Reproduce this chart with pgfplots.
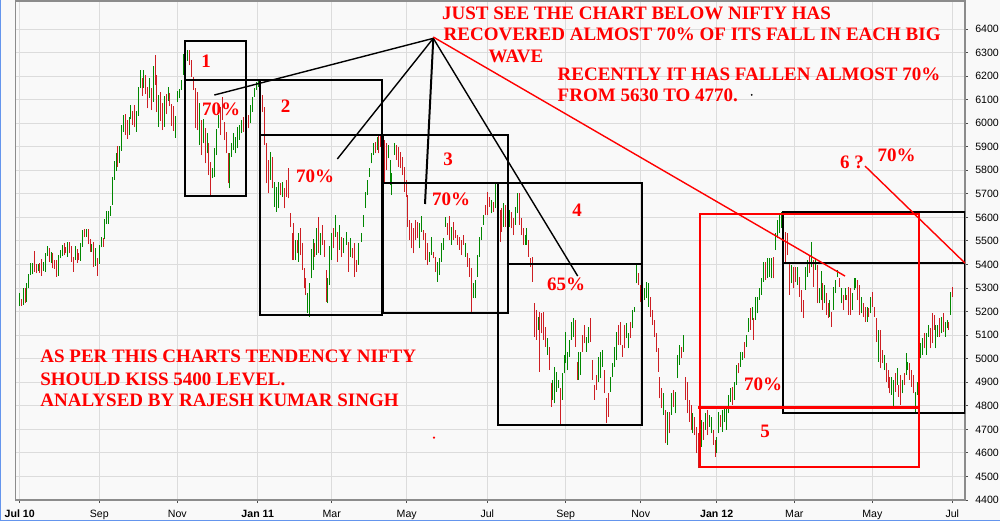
\documentclass[border=0pt]{standalone}
\usepackage{fontspec}
\setmainfont{Liberation Serif}
\newfontfamily\arialfont{Liberation Sans}
\usepackage{pgfplots}
\usepackage{pgfplotstable}
\pgfplotsset{compat=1.18}

\definecolor{upgreen}{RGB}{0,135,0}
\definecolor{downred}{RGB}{205,30,35}
\definecolor{annred}{RGB}{255,0,0}
\definecolor{gridgray}{RGB}{220,220,220}
\definecolor{framegray}{RGB}{140,140,140}
\definecolor{plotbg}{RGB}{249,249,249}
\definecolor{edgeblue}{RGB}{100,149,237}

\newcommand\ann{\fontsize{9.5}{11}\selectfont\bfseries}

% bars: t = position on the time axis, lo/hi = day's low and high
\pgfplotstableread{
t lo hi
19.5 5225 5278
23.5 5228 5299
26.5 5242 5323
28.5 5299 5358
30.5 5355 5405
32.5 5358 5405
38.5 5372 5402
43.5 5372 5412
45.5 5370 5447
47.5 5436 5479
51.5 5405 5452
58.5 5353 5440
60.5 5426 5462
62.5 5436 5483
67.5 5432 5497
75.5 5419 5479
80.5 5416 5490
82.5 5476 5547
86.5 5518 5549
91.5 5455 5487
95.5 5394 5469
99.5 5404 5483
101.5 5473 5515
104.5 5507 5593
106.5 5572 5627
108.5 5571 5627
110.5 5607 5648
112.5 5653 5773
114.5 5759 5840
116.5 5797 5872
119.5 5830 5903
121.5 5883 5992
123.5 5964 6035
129.5 5950 6028
130.5 6016 6077
136.5 5964 6052
138.5 6032 6155
140.5 6148 6226
143.5 6151 6226
149.5 6106 6190
153.5 6091 6243
158.5 5985 6120
164.5 5985 6116
168.5 6096 6152
175.5 5939 6032
177.5 6092 6137
179.5 6105 6144
181.5 6141 6183
183.5 6204 6294
187.5 6265 6313
199.5 5907 6084
203.5 5914 6020
207.5 5872 5957
212.5 5766 5808
214.5 5773 5893
216.5 5865 5974
218.5 5978 6035
229.5 5723 5872
231.5 5858 5914
233.5 5886 5957
235.5 5872 5943
237.5 5893 5985
239.5 5929 5992
241.5 5957 6013
246.5 6013 6063
250.5 5999 6077
252.5 6049 6112
254.5 6112 6148
256.5 6141 6176
258.5 6155 6180
270.5 5759 5879
274.5 5646 5752
276.5 5624 5730
278.5 5638 5752
282.5 5688 5752
295.5 5419 5504
298.5 5412 5532
307.5 5193 5278
309.5 5179 5320
311.5 5341 5464
313.5 5377 5507
316.5 5440 5554
320.5 5440 5532
327.5 5235 5341
329.5 5313 5479
331.5 5419 5532
335.5 5518 5609
339.5 5462 5568
343.5 5447 5511
346.5 5483 5539
350.5 5433 5511
358.5 5398 5490
361.5 5497 5532
363.5 5561 5610
365.5 5639 5709
367.5 5695 5759
369.5 5773 5808
371.5 5830 5872
373.5 5865 5914
377.5 5886 5943
388.5 5851 5907
390.5 5738 5844
391.5 5695 5787
394.5 5865 5914
419.5 5469 5575
421.5 5539 5606
429.5 5412 5455
431.5 5440 5518
437.5 5327 5412
439.5 5355 5426
441.5 5412 5490
443.5 5462 5511
445.5 5561 5600
451.5 5483 5561
465.5 5433 5490
473.5 5256 5320
475.5 5256 5334
477.5 5348 5440
479.5 5433 5518
481.5 5504 5561
483.5 5568 5610
491.5 5617 5674
495.5 5638 5752
503.5 5561 5660
509.5 5561 5631
515.5 5568 5645
517.5 5617 5702
525.5 5483 5525
526.5 5483 5553
538.5 5122 5178
547.5 5016 5087
552.5 4825 4910
554.5 4810 4966
556.5 4860 4945
558.5 4874 4910
562.5 4825 4938
564.5 4938 5016
565.5 4980 5115
567.5 4952 5030
569.5 5009 5080
571.5 5080 5157
573.5 5094 5171
578.5 4910 5030
580.5 4931 5030
586.5 5030 5094
588.5 5065 5136
598.5 4902 5009
600.5 4917 5030
602.5 4966 5037
610.5 4860 4924
612.5 4924 4980
614.5 4966 5051
616.5 4994 5115
626.5 5087 5150
628.5 5044 5108
632.5 5129 5207
634.5 5200 5221
636.5 5320 5398
644.5 5249 5299
646.5 5256 5327
648.5 5221 5320
663.5 4761 4853
667.5 4634 4775
671.5 4761 4853
675.5 4768 4860
677.5 4917 5016
679.5 4974 5058
683.5 5030 5101
692.5 4683 4768
699.5 4606 4676
701.5 4627 4740
705.5 4698 4768
709.5 4712 4761
711.5 4683 4754
716.5 4599 4669
718.5 4683 4775
722.5 4690 4782
724.5 4733 4790
726.5 4698 4797
728.5 4768 4846
730.5 4818 4875
734.5 4825 4903
736.5 4889 4974
740.5 4966 5030
742.5 4995 5030
746.5 5051 5101
748.5 5115 5172
752.5 5165 5221
755.5 5165 5264
757.5 5193 5264
759.5 5249 5299
761.5 5271 5341
763.5 5327 5412
767.5 5341 5426
769.5 5348 5426
771.5 5341 5426
775.5 5462 5532
777.5 5511 5589
779.5 5532 5617
781.5 5554 5624
791.5 5320 5398
797.5 5313 5391
805.5 5292 5391
807.5 5349 5419
811.5 5391 5497
815.5 5377 5426
819.5 5235 5299
821.5 5249 5374
824.5 5235 5313
829.5 5179 5249
833.5 5207 5306
835.5 5278 5334
837.5 5348 5377
841.5 5235 5299
845.5 5249 5299
852.5 5207 5278
854.5 5292 5341
855.5 5299 5341
861.5 5193 5264
867.5 5157 5221
870.5 5193 5264
878.5 4988 5122
884.5 4952 5016
891.5 4846 4924
893.5 4797 4910
897.5 4889 4959
902.5 4853 4910
906.5 4931 5023
907.5 4952 4988
915.5 4775 4860
917.5 4846 4903
920.5 5002 5065
922.5 5016 5087
926.5 5016 5108
928.5 5094 5143
935.5 5044 5143
937.5 5094 5143
941.5 5108 5179
945.5 5094 5157
947.5 5129 5165
950.5 5186 5285
}\up

\pgfplotstableread{
t lo hi
21.5 5225 5252
25.5 5235 5299
34.5 5370 5457
36.5 5362 5402
39.5 5365 5408
41.5 5353 5422
49.5 5412 5469
52.5 5384 5447
54.5 5381 5419
56.5 5348 5419
64.5 5440 5493
65.5 5447 5473
69.5 5447 5494
71.5 5412 5479
73.5 5370 5430
77.5 5408 5464
78.5 5419 5447
84.5 5515 5549
88.5 5487 5549
90.5 5455 5507
93.5 5391 5497
97.5 5353 5429
103.5 5476 5511
117.5 5815 5903
125.5 5950 6039
127.5 5933 6014
132.5 5992 6052
134.5 5983 6077
142.5 6117 6191
145.5 6124 6205
147.5 6063 6155
151.5 6056 6148
155.5 6162 6290
156.5 6049 6205
160.5 6009 6131
162.5 5971 6084
166.5 6039 6124
169.5 6073 6130
171.5 5990 6080
173.5 5968 6075
185.5 6268 6339
189.5 6247 6311
191.5 6197 6268
193.5 6141 6197
195.5 5978 6148
197.5 5971 6134
201.5 5865 6013
205.5 5829 5978
208.5 5780 5914
210.5 5695 5837
220.5 5950 6070
222.5 6013 6112
224.5 5929 6006
226.5 5872 5964
228.5 5745 5872
243.5 5964 6028
245.5 5985 6013
248.5 5978 6035
260.5 6063 6155
262.5 6049 6120
264.5 5907 6070
266.5 5745 5914
268.5 5702 5844
272.5 5723 5858
280.5 5695 5745
284.5 5638 5723
286.5 5688 5759
288.5 5681 5808
290.5 5561 5617
292.5 5419 5532
293.5 5419 5575
297.5 5447 5504
300.5 5440 5554
302.5 5377 5490
304.5 5299 5384
305.5 5271 5341
314.5 5433 5493
318.5 5447 5600
322.5 5483 5568
324.5 5433 5504
326.5 5242 5377
333.5 5469 5554
337.5 5412 5539
341.5 5433 5518
348.5 5370 5497
352.5 5426 5469
354.5 5348 5490
356.5 5370 5419
375.5 5872 5921
378.5 5872 5950
380.5 5900 5950
384.5 5745 5929
386.5 5801 5914
396.5 5844 5907
398.5 5815 5900
400.5 5808 5879
402.5 5780 5858
404.5 5709 5815
406.5 5688 5759
407.5 5561 5695
409.5 5504 5589
411.5 5469 5575
413.5 5447 5554
415.5 5504 5589
417.5 5511 5582
423.5 5504 5546
425.5 5419 5532
427.5 5398 5490
433.5 5426 5455
435.5 5370 5433
447.5 5525 5575
449.5 5504 5606
453.5 5504 5582
455.5 5511 5546
457.5 5483 5525
459.5 5462 5518
461.5 5440 5504
463.5 5483 5525
467.5 5391 5447
469.5 5348 5426
471.5 5200 5384
485.5 5610 5653
487.5 5610 5709
489.5 5646 5688
493.5 5624 5667
500.5 5497 5631
501.5 5539 5638
505.5 5561 5652
507.5 5539 5660
511.5 5553 5624
513.5 5525 5596
519.5 5568 5702
521.5 5525 5596
523.5 5483 5553
528.5 5433 5504
530.5 5391 5426
532.5 5327 5433
534.5 5094 5235
536.5 5080 5207
539.5 4945 5200
541.5 5108 5193
543.5 5080 5200
545.5 5051 5136
549.5 4952 5051
551.5 4796 4895
560.5 4718 4874
575.5 5051 5164
577.5 4910 4987
582.5 5030 5101
584.5 5065 5143
590.5 5072 5171
592.5 4910 4994
594.5 4825 4888
596.5 4867 4931
604.5 4853 4952
606.5 4726 4832
608.5 4754 4853
618.5 5058 5143
620.5 5058 5157
622.5 5009 5058
624.5 5044 5143
630.5 5087 5157
638.5 5313 5362
640.5 5242 5313
642.5 5200 5327
650.5 5178 5263
652.5 5143 5207
654.5 5094 5164
656.5 5030 5108
658.5 4945 5044
659.5 4832 4924
661.5 4790 4874
665.5 4641 4782
669.5 4683 4775
673.5 4797 4867
681.5 5002 5051
685.5 4825 4924
687.5 4768 4903
689.5 4733 4825
691.5 4698 4804
694.5 4676 4754
696.5 4599 4712
698.5 4535 4683
703.5 4655 4733
707.5 4676 4782
713.5 4634 4698
715.5 4584 4655
720.5 4712 4761
732.5 4804 4882
738.5 4938 4981
744.5 5002 5073
750.5 5122 5214
753.5 5080 5172
765.5 5334 5412
773.5 5341 5433
783.5 5448 5624
785.5 5412 5540
787.5 5440 5532
789.5 5271 5412
793.5 5299 5391
795.5 5327 5391
799.5 5264 5349
801.5 5200 5292
803.5 5172 5249
809.5 5363 5440
813.5 5306 5419
817.5 5235 5398
822.5 5207 5320
826.5 5186 5278
828.5 5172 5235
831.5 5136 5200
839.5 5306 5341
843.5 5207 5271
846.5 5249 5271
848.5 5186 5306
850.5 5186 5299
857.5 5249 5334
859.5 5186 5313
863.5 5179 5235
865.5 5157 5221
868.5 5179 5214
872.5 5221 5285
874.5 5179 5221
876.5 5073 5172
880.5 4959 5122
882.5 4981 5037
886.5 4903 4981
888.5 4874 4952
889.5 4853 4924
895.5 4860 4938
898.5 4839 4889
900.5 4804 4931
904.5 4889 4938
909.5 4910 4981
911.5 4882 4952
913.5 4853 4931
924.5 5044 5108
930.5 5044 5129
932.5 5065 5193
934.5 5122 5186
939.5 5094 5172
943.5 5115 5193
948.5 5122 5157
952.5 5264 5303
}\down

\begin{document}
\begin{tikzpicture}
\fill[plotbg] (-7.85pt,-10.5pt) rectangle (492.15pt,250pt);
\fill[edgeblue] (-7.85pt,-10.5pt) rectangle (-7.2pt,250pt);
\fill[edgeblue] (-7.85pt,-10.5pt) rectangle (492.15pt,-9.8pt);
\useasboundingbox (-7.85pt,-10.5pt) rectangle (492.15pt,250pt);
\begin{axis}[
  at={(0,0)}, anchor=south west,
  scale only axis, width=474.65pt, height=249.5pt,
  xmin=15.7, xmax=965, ymin=4400, ymax=6519,
  axis background/.style={fill=plotbg},
  axis line style={framegray, line width=0.7pt},
  grid=major, major grid style={gridgray, line width=0.5pt},
  tick align=outside, major tick length=1.6pt,
  tick style={black!70, line width=0.5pt},
  xtick pos=bottom, ytick pos=right, yticklabel pos=right,
  ytick={4400,4500,...,6400},
  xtick={19.7,99.3,177.3,257.7,331.7,406.7,487.3,565.7,640.7,716.7,794.3,872.3,952.3},
  xticklabels={\textbf{Jul 10},Sep,Nov,\textbf{Jan 11},Mar,May,Jul,Sep,Nov,\textbf{Jan 12},Mar,May,Jul},
  ticklabel style={font=\arialfont\fontsize{5.3}{6}\selectfont},
  /pgf/number format/assume math mode=true,
  /pgf/number format/1000 sep={},
  hl/.style={forget plot, color=#1, draw=#1, line width=0.55pt, mark=none, -,
    quiver={u=0, v=\thisrow{hi}-\thisrow{lo},
      every arrow/.append style={draw=#1, line width=0.55pt}}},
]
\addplot[hl=upgreen] table[x=t, y=lo] {\up};
\addplot[hl=downred] table[x=t, y=lo] {\down};

% wave boxes
\draw[black, line width=1pt] (axis cs:184.7,6350) rectangle (axis cs:246,5692);
\draw[black, line width=1pt] (axis cs:184.7,6183) -- (axis cs:382,6183);
\draw[black, line width=1pt] (axis cs:260,6183) rectangle (axis cs:382,5186);
\draw[black, line width=1pt] (axis cs:260,5949) -- (axis cs:508.3,5949);
\draw[black, line width=1pt] (axis cs:383,5949) rectangle (axis cs:508.3,5194);
\draw[black, line width=1pt] (axis cs:383,5747) -- (axis cs:642,5747);
\draw[black, line width=1pt] (axis cs:497.7,5747) rectangle (axis cs:642,4718.5);
\draw[black, line width=1pt] (axis cs:506.7,5402) -- (axis cs:642,5402);
\draw[black, line width=1pt] (axis cs:783.3,5624) rectangle (axis cs:965,4771);
\draw[black, line width=1pt] (axis cs:783.3,5405) -- (axis cs:965,5405);
\draw[annred, line width=1pt] (axis cs:700,5614.4) rectangle (axis cs:919.3,4541);
\draw[annred, line width=1.5pt] (axis cs:698.3,4791) -- (axis cs:919.3,4791);

% fan of lines
\draw[black, line width=0.7pt] (axis cs:214.3,6119.7) -- (axis cs:433.3,6360.5);
\draw[black, line width=0.7pt] (axis cs:337.3,5848) -- (axis cs:433.3,6360.5);
\draw[black, line width=1pt] (axis cs:425,5657) -- (axis cs:433.3,6360.5);
\draw[black, line width=0.7pt] (axis cs:577.7,5351) -- (axis cs:433.3,6360.5);
\draw[annred, line width=0.7pt] (axis cs:433.3,6366) -- (axis cs:845,5351);
\draw[annred, line width=0.7pt] (axis cs:865,5818) -- (axis cs:965,5406);

% texts
\begin{scope}[every node/.style={inner sep=0pt, text=annred, font=\ann}]
\node[anchor=base west] at (axis cs:441.7,6442.5) {JUST SEE THE CHART BELOW NIFTY HAS};
\node[anchor=base west] at (axis cs:443.3,6353) {RECOVERED ALMOST 70\% OF ITS FALL IN EACH BIG};
\node[anchor=base west] at (axis cs:488.3,6257) {WAVE};
\node[anchor=base west] at (axis cs:557.3,6183.5) {RECENTLY IT HAS FALLEN ALMOST 70\%};
\node[anchor=base west] at (axis cs:557.3,6094) {FROM 5630 TO 4770.};
\node[anchor=base west] at (axis cs:40,4983) {AS PER THIS CHARTS TENDENCY NIFTY};
\node[anchor=base west] at (axis cs:40,4888) {SHOULD KISS 5400 LEVEL.};
\node[anchor=base west] at (axis cs:40,4796) {ANALYSED BY RAJESH KUMAR SINGH};
\node[anchor=base] at (axis cs:206,6238.6) {1};
\node[anchor=base] at (axis cs:221,6034.8) {70\%};
\node[anchor=base] at (axis cs:285.5,6044.6) {2};
\node[anchor=base] at (axis cs:315,5747.3) {70\%};
\node[anchor=base] at (axis cs:448,5822.5) {3};
\node[anchor=base] at (axis cs:451,5652.7) {70\%};
\node[anchor=base] at (axis cs:577,5603) {4};
\node[anchor=base] at (axis cs:566,5288.7) {65\%};
\node[anchor=base] at (axis cs:763,4864) {70\%};
\node[anchor=base] at (axis cs:765,4666) {5};
\node[anchor=base] at (axis cs:852,5808.5) {6 ?};
\node[anchor=base] at (axis cs:896.7,5836.5) {70\%};
\end{scope}
\fill[black] (axis cs:751.7,6120) circle[radius=0.5pt];
\fill[annred] (axis cs:434,4665) circle[radius=0.6pt];
\end{axis}
\end{tikzpicture}
\end{document}
